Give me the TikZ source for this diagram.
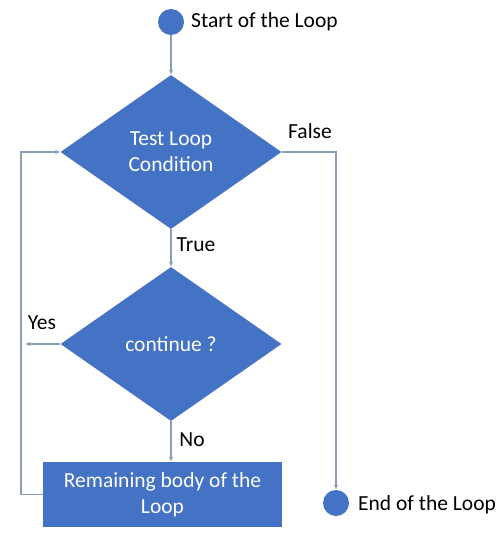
\documentclass[tikz,border=0pt]{standalone}
\usepackage{fontspec}
\setmainfont{Carlito}
\usetikzlibrary{shapes.geometric,arrows.meta}
\definecolor{boxblue}{HTML}{4472C4}
\definecolor{linegray}{HTML}{8C9DB8}
\tikzset{
  x=1pt,y=-1pt,
  flow/.style={draw=linegray,line width=1.1pt,-{Latex[length=5pt,width=4.5pt]}},
  dec/.style={diamond,fill=boxblue,inner sep=0pt,minimum width=221pt,minimum height=154pt,aspect=1.435,text=white,align=center,font=\fontsize{21.5}{26}\selectfont},
  term/.style={circle,fill=boxblue,minimum size=26pt,inner sep=0pt},
  lbl/.style={font=\fontsize{21.5}{26}\selectfont,text=black,inner sep=0pt},
  body/.style={rectangle,fill=boxblue,minimum width=239pt,minimum height=65pt,text=white,align=center,font=\fontsize{21.5}{26}\selectfont,inner sep=0pt}
}
\begin{document}
\begin{tikzpicture}
\useasboundingbox (0,0) rectangle (502,537);
\node[term] (start) at (171,22) {};
\node[lbl,anchor=west] (startlbl) at (191,22) {Start of the Loop};
\node[dec] (test) at (171,152) {Test Loop\\Condition};
\node[dec] (cont) at (171,344) {continue ?};
\node[body] (rem) at (162.5,494.5) {Remaining body of the\\Loop};
\node[term] (end) at (336,503) {};
\node[lbl,anchor=west] (endlbl) at (358,505) {End of the Loop};
\coordinate (yesend) at (25,344);
\coordinate (lc1) at (21,494.5);
\coordinate (lc2) at (21,152);
\coordinate (rc1) at (336,152);

\draw[flow] (start) -- (test.north);
\draw[flow] (test.east) -- (rc1) -- (end.north);
\draw[flow] (test.south) -- (cont.north);
\draw[flow] (cont.west) -- (yesend);
\draw[flow] (cont.south) -- (cont.south |- rem.north);
\draw[flow] (rem.west) -- (lc1) -- (lc2) -- (test.west);

\node[lbl] (false) at (310,131) {False};
\node[lbl] (true) at (196,245) {True};
\node[lbl] (yes) at (42,323) {Yes};
\node[lbl] (no) at (192,440) {No};
\end{tikzpicture}
\end{document}
